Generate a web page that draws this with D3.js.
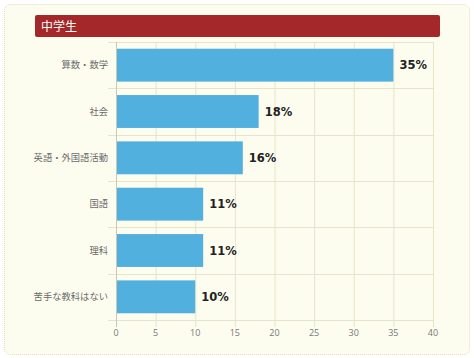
<!DOCTYPE html>
<html>
<head>
<meta charset="utf-8">
<script src="https://cdn.jsdelivr.net/npm/d3@7"></script>
<style>
  body { margin: 0; background: #fff; }
  svg { display: block; }
</style>
</head>
<body>
<div id="chart"></div>
<script>
const categories = ["算数・数学", "社会", "英語・外国語活動", "国語", "理科", "苦手な教科はない"];
const values = [35, 18, 16, 11, 11, 10];
const xTicks = [0, 5, 10, 15, 20, 25, 30, 35, 40];
const title = "中学生";

const width = 474, height = 358;
const plot = { left: 116, right: 433, top: 42, bottom: 320 };

const svg = d3.select("#chart")
  .append("svg")
  .attr("width", width)
  .attr("height", height);

// panel
svg.append("rect")
  .attr("x", 4.5).attr("y", 4.5)
  .attr("width", 465).attr("height", 350)
  .attr("rx", 6)
  .attr("fill", "#fdfdef")
  .attr("stroke", "#e6dcb4")
  .attr("stroke-dasharray", "1,1");

// header
svg.append("rect")
  .attr("x", 35).attr("y", 15)
  .attr("width", 405).attr("height", 22)
  .attr("rx", 2)
  .attr("fill", "#a4282a");

svg.append("text")
  .attr("x", 41).attr("y", 30.5)
  .attr("fill", "#fff")
  .attr("font-family", "'Noto Sans CJK JP', sans-serif")
  .attr("font-size", 12)
  .text(title);

const x = d3.scaleLinear()
  .domain([0, 40])
  .range([plot.left, plot.right]);

const y = d3.scaleBand()
  .domain(categories)
  .range([plot.top, plot.bottom])
  .paddingInner(0.29)
  .paddingOuter(0.145);

// vertical grid
svg.append("g")
  .selectAll("line")
  .data(xTicks)
  .enter()
  .append("line")
  .attr("x1", d => x(d) + 0.5)
  .attr("x2", d => x(d) + 0.5)
  .attr("y1", plot.top)
  .attr("y2", plot.bottom + 7)
  .attr("stroke", "#e6e4cc");

// horizontal grid at category boundaries
const step = y.step();
const bounds = d3.range(categories.length + 1).map(i => plot.top + i * step);
svg.append("g")
  .selectAll("line")
  .data(bounds)
  .enter()
  .append("line")
  .attr("x1", plot.left - 8)
  .attr("x2", plot.right)
  .attr("y1", d => Math.round(d) + 0.5)
  .attr("y2", d => Math.round(d) + 0.5)
  .attr("stroke", "#e6e4cc");

// axis line
svg.append("line")
  .attr("x1", plot.left + 0.5).attr("x2", plot.left + 0.5)
  .attr("y1", plot.top).attr("y2", plot.bottom + 7)
  .attr("stroke", "#c8c8b8");

// bars
svg.selectAll("rect.bar")
  .data(categories)
  .enter()
  .append("rect")
  .attr("class", "bar")
  .attr("x", x(0) + 1)
  .attr("y", d => y(d))
  .attr("width", (d, i) => x(values[i]) - x(0) - 1)
  .attr("height", y.bandwidth())
  .attr("fill", "#52b0df");

// value labels
svg.selectAll("text.val")
  .data(categories)
  .enter()
  .append("text")
  .attr("class", "val")
  .attr("x", (d, i) => x(values[i]) + 6)
  .attr("y", d => y(d) + y.bandwidth() / 2)
  .attr("dy", "0.35em")
  .attr("font-family", "'DejaVu Sans', Verdana, sans-serif")
  .attr("font-weight", "bold")
  .attr("font-size", 11.5)
  .attr("fill", "#222")
  .text((d, i) => values[i] + "%");

// category labels
svg.selectAll("text.cat")
  .data(categories)
  .enter()
  .append("text")
  .attr("class", "cat")
  .attr("x", plot.left - 8)
  .attr("y", d => y(d) + y.bandwidth() / 2)
  .attr("dy", "0.35em")
  .attr("text-anchor", "end")
  .attr("font-family", "'Noto Sans CJK JP', sans-serif")
  .attr("font-size", 9.3)
  .attr("fill", "#6a6a6a")
  .text(d => d);

// x tick labels
svg.selectAll("text.tick")
  .data(xTicks)
  .enter()
  .append("text")
  .attr("class", "tick")
  .attr("x", d => x(d))
  .attr("y", plot.bottom + 16)
  .attr("text-anchor", "middle")
  .attr("font-family", "'Open Sans', sans-serif")
  .attr("font-size", 9)
  .attr("fill", "#777")
  .text(d => d);
</script>
</body>
</html>
